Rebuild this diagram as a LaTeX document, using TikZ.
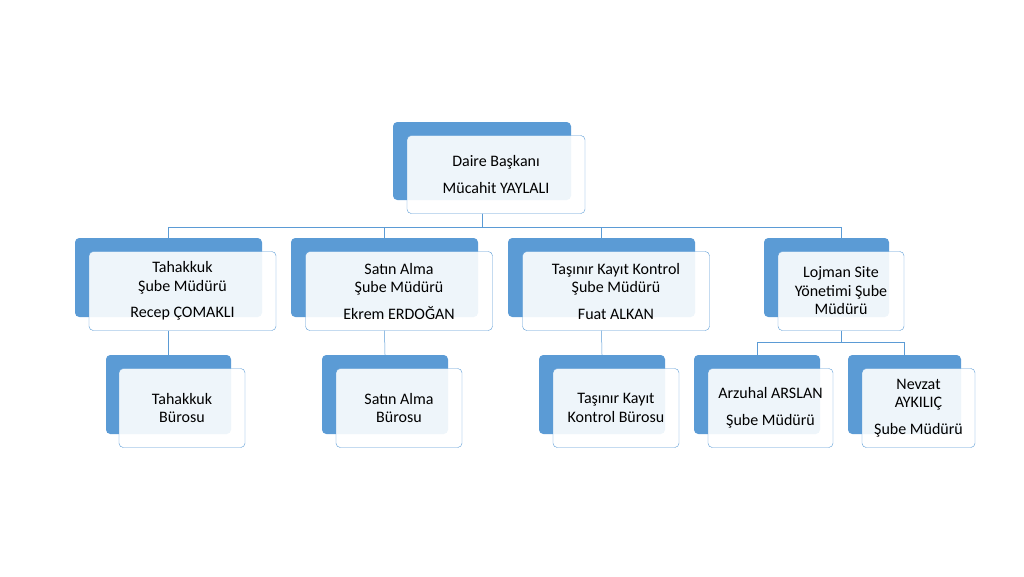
\documentclass[tikz,border=0pt]{standalone}
\usepackage{fontspec}
\setmainfont{Carlito}
\usepackage{tikz}
\usetikzlibrary{positioning,calc}
\definecolor{orgblue}{HTML}{5B9BD5}

\begin{document}
\begin{tikzpicture}[x=1pt,y=-1pt,
    back/.style={rectangle, draw=none, rounded corners=1.5mm, fill=orgblue,
        minimum height=79pt, inner sep=0pt},
    front/.style={rectangle, draw=orgblue, rounded corners=1.5mm, fill=white,
        fill opacity=0.9, text opacity=1, align=center, minimum height=79pt,
        inner sep=0pt, font=\fontsize{16}{18.5}\selectfont},
    conn/.style={draw=orgblue, line width=0.5pt}
]
\useasboundingbox (0,0) rectangle (1024,576);
% top
\node (b0) [back, minimum width=178pt, minimum height=78pt] at (482,161) {};
\node (f0) [front, minimum width=178pt, minimum height=78pt] at (496,174.5) {Daire Başkanı\\[8pt]Mücahit YAYLALI};
% second row
\node (b1) [back, minimum width=187pt] at (168.5,277.5) {};
\node (f1) [front, minimum width=187pt] at (182.5,291) {Tahakkuk\\Şube Müdürü\\[8pt]Recep ÇOMAKLI};
\node (b2) [back, minimum width=187pt] at (384.5,277.5) {};
\node (f2) [front, minimum width=187pt] at (399,291) {Satın Alma\\Şube Müdürü\\[8pt]Ekrem ERDOĞAN};
\node (b3) [back, minimum width=187pt] at (601.5,277.5) {};
\node (f3) [front, minimum width=187pt] at (616,291) {Taşınır Kayıt Kontrol\\Şube Müdürü\\[8pt]Fuat ALKAN};
\node (b4) [back, minimum width=125pt] at (826.5,277.5) {};
\node (f4) [front, minimum width=126pt] at (841,291) {Lojman Site\\Yönetimi Şube\\Müdürü};
% third row
\node (b11) [back, minimum width=125pt] at (168.5,394.5) {};
\node (f11) [front, minimum width=126pt] at (182,408) {Tahakkuk\\Bürosu};
\node (b21) [back, minimum width=126pt] at (385,394.5) {};
\node (f21) [front, minimum width=126pt] at (399,408) {Satın Alma\\Bürosu};
\node (b31) [back, minimum width=126pt] at (602,394.5) {};
\node (f31) [front, minimum width=126pt] at (616,408) {Taşınır Kayıt\\Kontrol Bürosu};
\node (b41) [back, minimum width=126pt] at (757,394.5) {};
\node (f41) [front, minimum width=125pt] at (770.5,408) {Arzuhal ARSLAN\\[8pt]Şube Müdürü};
\node (b42) [back, minimum width=113pt] at (904.5,394.5) {};
\node (f42) [front, minimum width=113pt] at (918.5,408) {Nevzat\\AYKILIÇ\\[8pt]Şube Müdürü};
% connectors
\foreach \k in {1,2,3}
    \draw[conn] (b0.south |- f0.south) -- ++(0,14) -| (b\k.north);
\draw[conn] (b0.south |- f0.south) -- ++(0,14) -| (f4.north |- b4.north);
\foreach \k in {1,2,3}
    \draw[conn] (f\k.south -| b\k.south) -- (b\k1.north);
\foreach \k in {1,2}
    \draw[conn] (f4.south) -- ++(0,12) -| (b4\k.north);
\end{tikzpicture}
\end{document}
